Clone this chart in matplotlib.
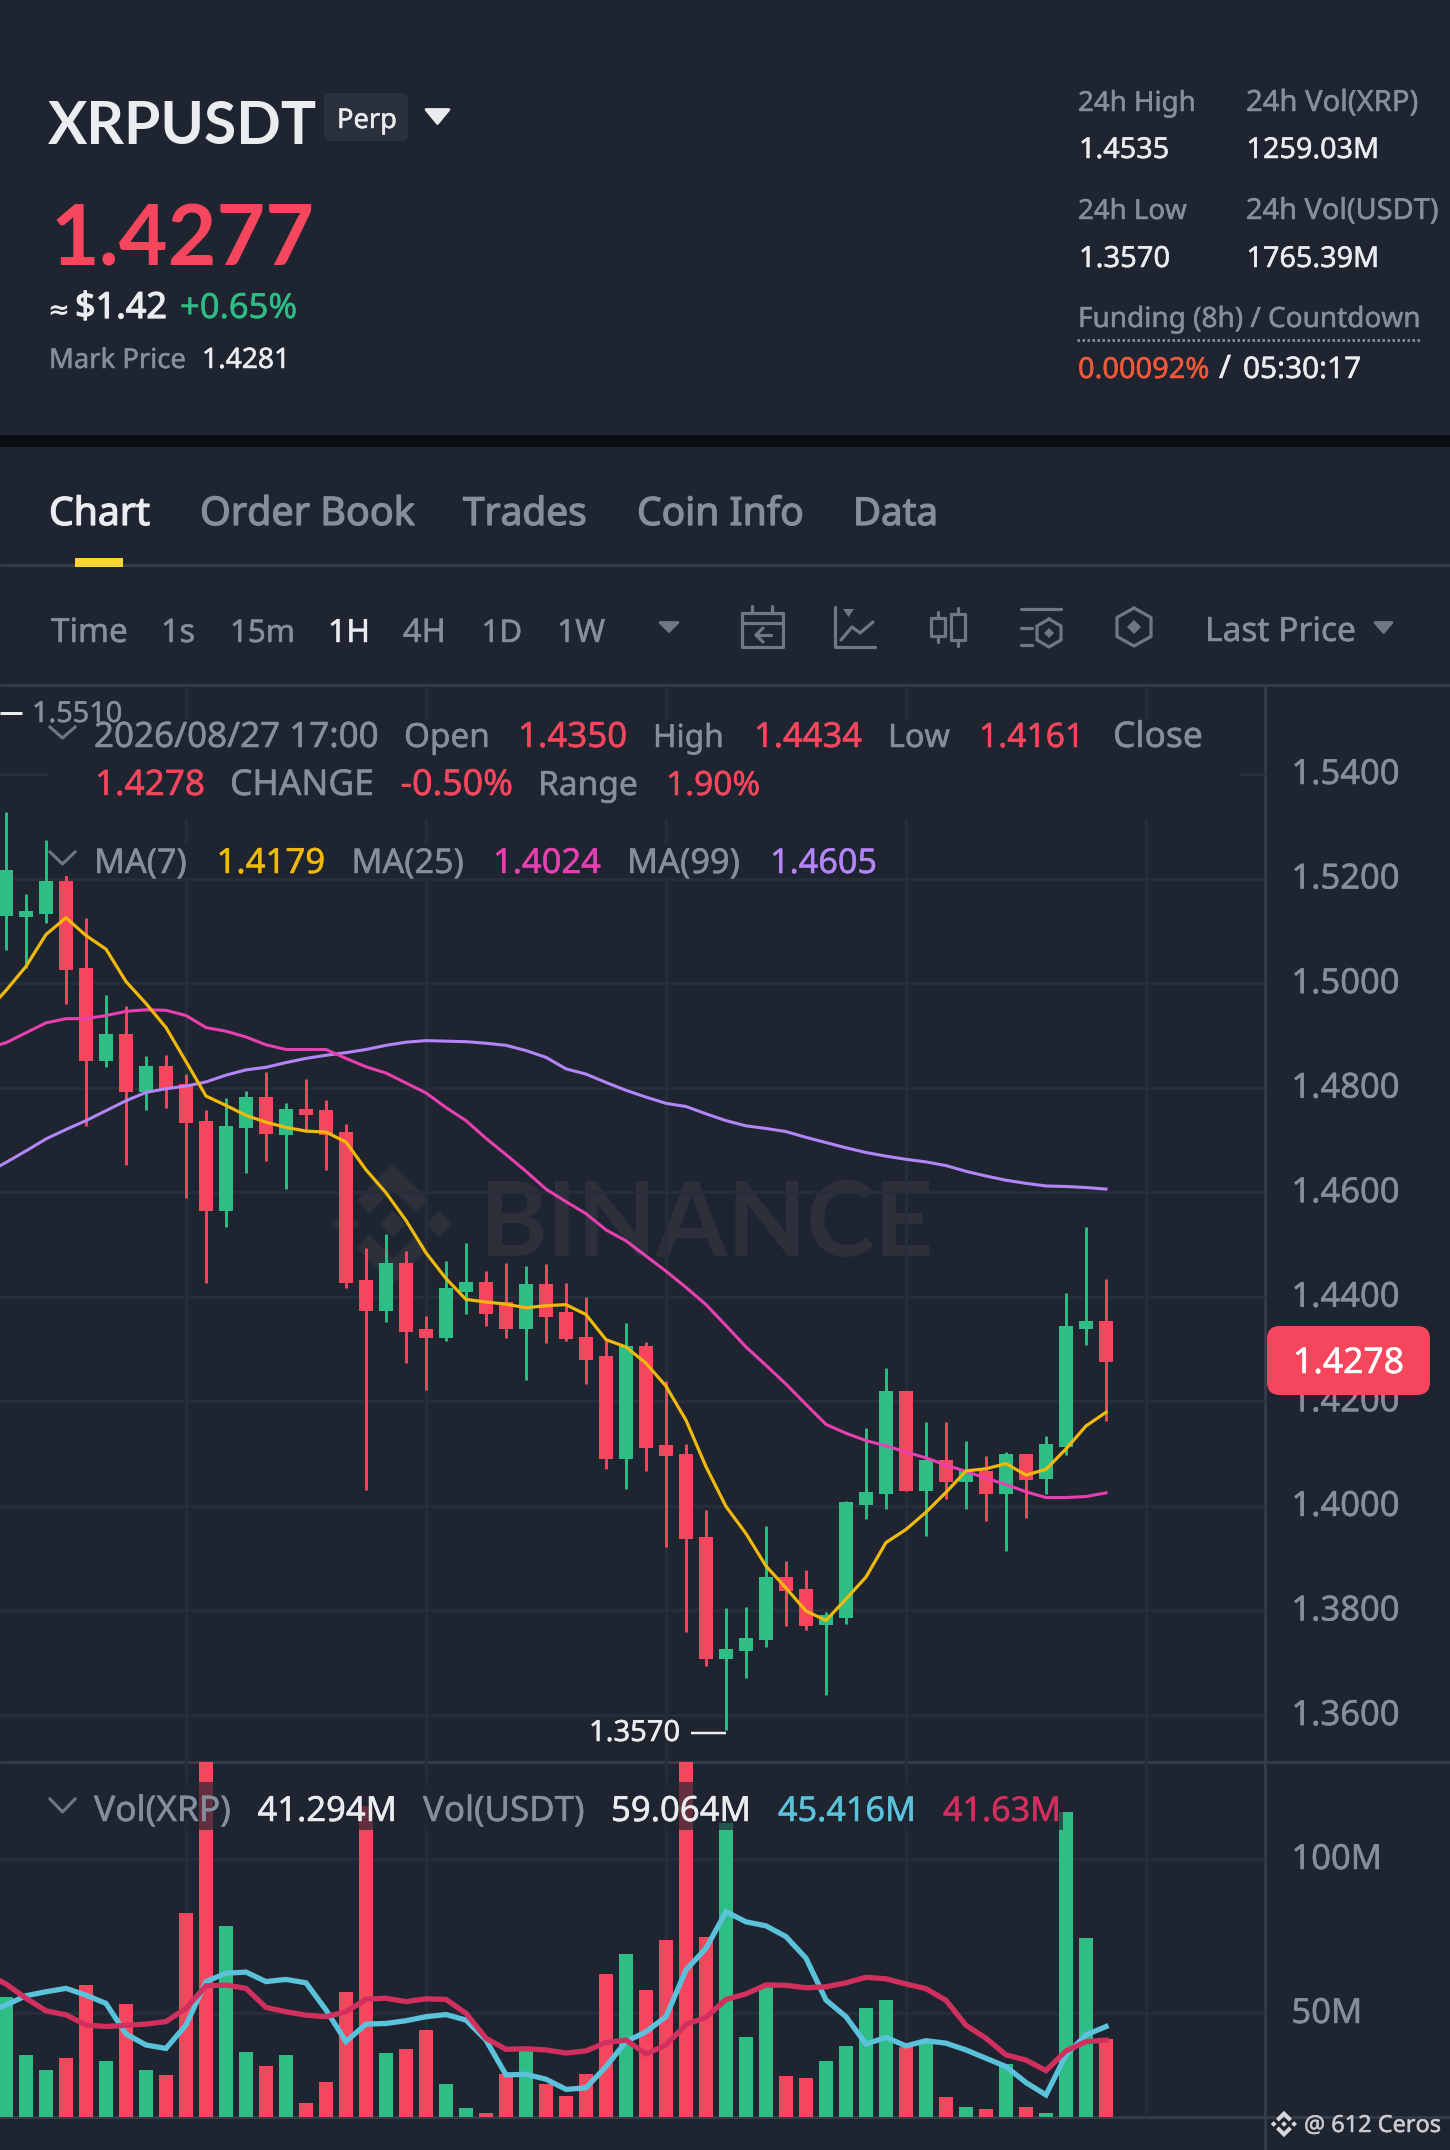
import matplotlib
matplotlib.use("Agg")
import matplotlib.pyplot as plt
from matplotlib.patches import Rectangle, Polygon, FancyBboxPatch
from matplotlib.transforms import ScaledTranslation
import matplotlib.patheffects as pe
import numpy as np

plt.rcParams['font.family'] = ['Noto Sans', 'DejaVu Sans']

W, H = 1450, 2150
BG = '#1e2530'; GRID = '#282e39'; SEP = '#343b47'
RED = '#f6465d'; GREEN = '#2ebd85'; GREY = '#848e9c'; WHITE = '#eaecef'; ICON = '#6f7785'
YELLOW = '#f0b90b'; PINK = '#e83fb1'; PURPLE = '#b385f8'; CYAN = '#5bc2db'; CRIMSON = '#d1305f'

open_ = [1.5129,1.5127,1.5133,1.5195,1.5029,1.4851,1.4903,1.4791,1.4841,1.4807,1.4737,1.4565,1.4723,1.4783,1.4710,1.4760,
         1.4757,1.4715,1.4432,1.4373,1.4465,1.4338,1.4322,1.4409,1.4429,1.4391,1.4339,1.4424,1.4370,1.4324,1.4287,1.4090,
         1.4306,1.4117,1.4100,1.3941,1.3708,1.3722,1.3743,1.3864,1.3842,1.3772,1.3786,1.4002,1.4022,1.4220,1.4028,1.4088,
         1.4045,1.4067,1.4022,1.4100,1.4051,1.4113,1.4339,1.4353]
close = [1.5217,1.5138,1.5195,1.5025,1.4851,1.4903,1.4791,1.4841,1.4798,1.4732,1.4565,1.4727,1.4783,1.4711,1.4760,1.4748,
         1.4709,1.4427,1.4373,1.4465,1.4332,1.4322,1.4416,1.4429,1.4367,1.4339,1.4424,1.4362,1.4319,1.4280,1.4090,1.4306,
         1.4111,1.4095,1.3937,1.3708,1.3727,1.3748,1.3864,1.3837,1.3771,1.3792,1.4007,1.4027,1.4220,1.4028,1.4088,1.4045,
         1.4067,1.4022,1.4100,1.4050,1.4119,1.4345,1.4353,1.4276]
high = [1.5328,1.5170,1.5274,1.5207,1.5125,1.4978,1.4956,1.4860,1.4862,1.4826,1.4758,1.4781,1.4794,1.4830,1.4771,1.4817,
        1.4777,1.4730,1.4493,1.4521,1.4488,1.4364,1.4468,1.4503,1.4450,1.4465,1.4458,1.4463,1.4427,1.4399,1.4316,1.4349,
        1.4314,1.4239,1.4119,1.3992,1.3804,1.3806,1.3962,1.3895,1.3877,1.3797,1.4009,1.4150,1.4264,1.4220,1.4161,1.4161,
        1.4124,1.4096,1.4103,1.4100,1.4134,1.4407,1.4534,1.4434]
low = [1.5063,1.5029,1.5115,1.4961,1.4726,1.4839,1.4653,1.4757,1.4762,1.4589,1.4427,1.4533,1.4636,1.4660,1.4606,1.4715,
       1.4643,1.4416,1.4031,1.4351,1.4273,1.4221,1.4315,1.4368,1.4344,1.4322,1.4241,1.4311,1.4316,1.4233,1.4071,1.4032,
       1.4067,1.3922,1.3758,1.3693,1.3571,1.3670,1.3731,1.3771,1.3763,1.3638,1.3774,1.3975,1.3995,1.4028,1.3943,1.4013,
       1.3995,1.3972,1.3914,1.3976,1.4022,1.4098,1.4308,1.4163]
# moving averages start one candle left of the visible range
ma7 = [1.4944,1.4986,1.5032,1.5093,1.5125,1.5091,1.5065,1.5003,1.4961,1.4915,1.4850,1.4784,1.4766,1.4747,1.4734,1.4724,1.4717,
       1.4715,1.4696,1.4643,1.4599,1.4546,1.4484,1.4435,1.4395,1.4390,1.4386,1.4379,1.4383,1.4385,1.4366,1.4318,1.4304,
       1.4273,1.4229,1.4164,1.4075,1.3999,1.3947,1.3885,1.3843,1.3799,1.3781,1.3822,1.3864,1.3930,1.3955,1.3988,1.4026,
       1.4067,1.4071,1.4081,1.4059,1.4070,1.4109,1.4153,1.4179]
ma25 = [1.4875,1.4886,1.4905,1.4924,1.4932,1.4932,1.4938,1.4946,1.4949,1.4948,1.4938,1.4915,1.4908,1.4897,1.4882,1.4873,1.4873,
        1.4873,1.4856,1.4840,1.4828,1.4809,1.4790,1.4762,1.4737,1.4703,1.4672,1.4640,1.4606,1.4582,1.4559,1.4528,1.4507,
        1.4478,1.4449,1.4418,1.4385,1.4345,1.4304,1.4269,1.4233,1.4194,1.4156,1.4139,1.4125,1.4115,1.4103,1.4092,1.4078,
        1.4066,1.4053,1.4041,1.4027,1.4016,1.4016,1.4018,1.4025]
ma99 = [1.4636,1.4657,1.4679,1.4702,1.4720,1.4737,1.4756,1.4775,1.4791,1.4798,1.4803,1.4811,1.4824,1.4834,1.4839,1.4848,1.4856,
        1.4862,1.4867,1.4873,1.4881,1.4887,1.4890,1.4889,1.4888,1.4885,1.4881,1.4871,1.4858,1.4836,1.4826,1.4810,1.4795,
        1.4782,1.4770,1.4764,1.4750,1.4737,1.4727,1.4722,1.4716,1.4705,1.4695,1.4685,1.4676,1.4669,1.4663,1.4658,1.4651,
        1.4640,1.4631,1.4623,1.4617,1.4612,1.4611,1.4609,1.4606]
volume = [55.1,36.4,31.5,35.3,59.0,34.4,52.8,31.4,30.0,82.5,135.0,78.2,37.2,32.8,36.4,20.9,27.7,56.8,117.2,37.0,38.3,44.4,
          26.8,19.2,17.4,30.1,39.1,26.9,23.2,30.1,62.6,69.2,57.4,73.6,135.0,74.6,111.8,42.3,58.5,29.5,28.9,34.3,39.3,51.5,
          54.2,39.1,40.7,22.6,19.5,18.8,33.4,19.4,17.4,115.4,74.5,41.5]
vol_ma_fast = [49.9,52.6,55.6,56.9,58.0,55.8,53.1,43.2,39.6,38.5,46.1,60.2,62.9,63.3,60.2,60.9,59.8,51.0,40.7,46.4,46.6,47.5,
               48.8,49.5,47.7,41.2,29.9,30.1,28.5,25.2,25.7,32.6,40.7,43.9,48.8,64.0,71.0,82.9,79.6,78.3,74.8,67.8,54.2,48.8,
               39.9,42.1,39.3,41.0,40.2,38.0,35.3,32.6,27.4,23.4,36.4,42.9,45.6]
vol_ma_slow = [62.9,59.4,54.8,50.7,49.4,46.1,45.6,46.0,46.4,47.2,51.5,58.8,59.1,58.0,51.8,50.4,49.3,48.8,50.4,54.5,54.8,53.7,
               54.6,54.4,49.9,41.8,38.2,38.4,38.0,37.0,37.7,40.4,41.2,36.7,39.6,46.3,48.6,54.4,56.2,59.1,59.0,58.2,58.5,59.8,
               61.6,61.1,59.4,57.9,54.1,46.0,41.8,36.4,34.7,31.3,37.7,40.7,41.2]
price_ticks = [1.36,1.38,1.40,1.42,1.44,1.46,1.48,1.50,1.52,1.54]
vol_ticks = [50,100]
vol_tick_labels = ['50M','100M']
time_ticks = [9,21,33,45,57]

fig = plt.figure(figsize=(W/100, H/100), dpi=100, facecolor=BG)
renderer = fig.canvas.get_renderer()

def px_axes(z):
    a = fig.add_axes([0,0,1,1], zorder=z, facecolor='none')
    a.set_xlim(0,W); a.set_ylim(H,0); a.axis('off')
    return a
bg = px_axes(0); ui = px_axes(5)

def T(ax, s, x0, x1, y, color, weight='normal', z=6, family=None, stroke=0.35):
    kw = {'family': family} if family else {}
    t = ax.text(x0, y, s, color=color, fontsize=24, ha='left', va='baseline', zorder=z,
                fontweight='bold' if family else 'normal', **kw)
    w = t.get_window_extent(renderer).width
    t.set_fontsize(24*(x1-x0)/w)
    if weight == 'medium':
        t.set_path_effects([pe.withStroke(linewidth=0.9, foreground=color)])
    elif stroke and not family:
        t.set_path_effects([pe.withStroke(linewidth=stroke, foreground=color)])
    return t

def hline(ax, x0, x1, y, c, lw, **k):
    ax.plot([x0,x1],[y,y],color=c,lw=lw*0.72,solid_capstyle='butt',**k)
def vline(ax, x, y0, y1, c, lw, **k):
    ax.plot([x,x],[y0,y1],color=c,lw=lw*0.72,solid_capstyle='butt',**k)

def logo(ax, cx, cy, s, color, z=1):
    def P(pts):
        ax.add_patch(Polygon([(cx+a*s, cy+b*s) for a,b in pts], closed=True, fc=color, ec='none', zorder=z))
    P([(0,-60),(36,-24),(23,-11),(0,-34),(-24,-11),(-36,-24)])
    P([(0,60),(36,24),(23,11),(0,34),(-24,11),(-36,24)])
    for dx in (-47,0,46):
        P([(dx-13,0),(dx,-13),(dx+13,0),(dx,13)])

def tri(ax, x0, x1, y0, y1, color):
    ax.add_patch(Polygon([(x0+2,y0+1.5),(x1-2,y0+1.5),((x0+x1)/2,y1-1.5)], closed=True, fc=color, ec=color, lw=2, joinstyle='round', zorder=6))

# ---- page structure
bg.add_patch(Rectangle((0,435),W,12,fc='#0a0e11',ec='none'))
hline(bg,0,W,565,SEP,3)
hline(bg,0,W,685,SEP,3)
hline(bg,0,W,1762,SEP,3)
hline(bg,0,W,2117,SEP,3)
vline(bg,1265,685,H,SEP,3)
bg.add_patch(Rectangle((75,558),48,9,fc='#fcd535',ec='none',zorder=3))

# ---- watermark
logo(bg,393,1224,1.0,'#2b303b')
T(bg,'BINANCE',480,934,1256,'#2b303b',z=1,family='Lato')

# ---- price panel
x_left = -0.3; x_right = 62.95
pa = fig.add_axes([0,(H-1762)/H,1265/W,(1762-686)/H], zorder=2, facecolor='none')
pa.set_xlim(x_left,x_right); pa.set_ylim(1.35102,1.55683)
idx = np.arange(len(open_))
o,c,h,l = map(np.array,(open_,close,high,low))
colors = [GREEN if c[i]>=o[i] else RED for i in idx]
pa.set_axisbelow(True)
pa.vlines(idx,l,h,colors=colors,lw=2.1,zorder=2)
pa.bar(idx,np.abs(c-o),bottom=np.minimum(o,c),width=0.7,color=colors,zorder=3)
ma_x = np.arange(-1,len(open_))
pa.plot(ma_x,ma99,color=PURPLE,lw=2.2,zorder=4)
pa.plot(ma_x,ma25,color=PINK,lw=2.2,zorder=4)
pa.plot(ma_x,ma7,color=YELLOW,lw=2.3,zorder=5)
pa.set_yticks(price_ticks); pa.set_yticklabels([f'{v:.4f}' for v in price_ticks])
pa.set_xticks(time_ticks); pa.set_xticklabels([])
pa.grid(True,color=GRID,lw=2.0)
pa.yaxis.tick_right()
pa.tick_params(axis='both',length=0)
pa.tick_params(axis='y',labelsize=24.9,labelcolor=GREY,pad=19)
for s in pa.spines.values(): s.set_visible(False)

# ---- volume panel
va = fig.add_axes([0,(H-2117)/H,1265/W,(2117-1762)/H], zorder=2, facecolor='none')
va.set_xlim(x_left,x_right); va.set_ylim(16.23,131.5)
va.set_axisbelow(True)
va.bar(idx,volume,width=0.7,color=colors,zorder=3)
va.plot(ma_x,vol_ma_fast,color=CYAN,lw=3.8,zorder=4,solid_joinstyle='miter')
va.plot(ma_x,vol_ma_slow,color=CRIMSON,lw=3.8,zorder=5,solid_joinstyle='miter')
va.set_yticks(vol_ticks); va.set_yticklabels(vol_tick_labels)
va.set_xticks(time_ticks); va.set_xticklabels([])
va.grid(True,color=GRID,lw=2.0)
va.yaxis.tick_right()
va.tick_params(axis='both',length=0)
va.tick_params(axis='y',labelsize=24.9,labelcolor=GREY,pad=19)
for s in va.spines.values(): s.set_visible(False)

# tick labels sit a little above their grid lines
for a in (pa, va):
    for lab in a.get_yticklabels():
        lab.set_transform(lab.get_transform() + ScaledTranslation(0, 3/100, fig.dpi_scale_trans))
        lab.set_path_effects([pe.withStroke(linewidth=0.35, foreground=GREY)])

# ---- header
T(ui,'XRPUSDT',48,317,144,WHITE,family='Lato')
ui.add_patch(FancyBboxPatch((328,97),76,40,boxstyle='round,pad=4,rounding_size=7',fc='#2a303c',ec='none',zorder=5))
T(ui,'Perp',337,397,128,WHITE)
tri(ui,424,451,108,125,WHITE)
T(ui,'1.4277',51,314,266,RED,family='Lato')
T(ui,'≈',47,69,318,WHITE,family='DejaVu Sans')
T(ui,'$1.42',75,167,318,WHITE,'medium')
T(ui,'+0.65%',180,297,318,GREEN)
T(ui,'Mark Price',49,186,368,GREY)
T(ui,'1.4281',202,290,368,WHITE)
T(ui,'24h High',1078,1196,111,GREY)
T(ui,'24h Vol(XRP)',1246,1418.5,111,GREY)
T(ui,'1.4535',1079,1169,158,WHITE)
T(ui,'1259.03M',1246.5,1379,158,WHITE)
T(ui,'24h Low',1078,1187,219,GREY)
T(ui,'24h Vol(USDT)',1246,1439,219,GREY)
T(ui,'1.3570',1079,1170,267,WHITE)
T(ui,'1765.39M',1246.5,1379,267,WHITE)
T(ui,'Funding (8h) / Countdown',1078,1421,327,GREY)
ui.plot([1077,1422],[340,340],color=GREY,lw=2.0,ls=(0,(0.9,0.9)))
T(ui,'0.00092%',1078,1209.5,378,'#f0583a')
T(ui,'/',1219,1231,378,WHITE)
T(ui,'05:30:17',1243,1361,378,WHITE)

# ---- tabs
T(ui,'Chart',49,150,525,WHITE,'medium')
for s,a,b in [('Order Book',200,415),('Trades',463,587),('Coin Info',637,804),('Data',853,938)]:
    T(ui,s,a,b,525,GREY,'medium')
for s,a,b,col in [('Time',51,128,GREY),('1s',161,195,GREY),('15m',230,295,GREY),('1H',328,370,WHITE),
                  ('4H',403,446,GREY),('1D',481.5,522,GREY),('1W',557,605,GREY)]:
    T(ui,s,a,b,642,col)
tri(ui,658,680,621,633,ICON)
T(ui,'Last Price',1205,1356,641,GREY)
tri(ui,1373,1394,621,634,ICON)

# ---- toolbar icons
def L(pts,lw=3.2):
    xs,ys = zip(*pts)
    ui.plot(xs,ys,color=ICON,lw=lw*0.72,solid_capstyle='round',solid_joinstyle='round',zorder=6)
L([(742,613),(783,613),(783,647),(742,647),(742,613)])
L([(742,623),(783,623)]); L([(752,606),(752,613)]); L([(772,606),(772,613)])
L([(771,635),(756,635)]); L([(763,628),(756,635),(763,642)])
L([(835,607),(835,647),(875,647)]); L([(841,640),(852,627),(860,633),(873,622)])
ui.add_patch(Polygon([(843,609),(854,609),(848.5,617)],fc=ICON,ec='none',zorder=6))
L([(931,618),(945,618),(945,636),(931,636),(931,618)]); L([(938,612),(938,618)]); L([(938,636),(938,642)])
L([(951,614),(965,614),(965,640),(951,640),(951,614)]); L([(958,608),(958,614)]); L([(958,640),(958,646)])
L([(1021,609),(1061,609)]); L([(1021,628),(1032,628)]); L([(1021,645),(1032,645)])
def hexa(cx,cy,hw,hh,dw):
    L([(cx,cy-hh),(cx+hw,cy-hh*0.5),(cx+hw,cy+hh*0.5),(cx,cy+hh),(cx-hw,cy+hh*0.5),(cx-hw,cy-hh*0.5),(cx,cy-hh)])
    ui.add_patch(Polygon([(cx-dw,cy),(cx,cy-dw),(cx+dw,cy),(cx,cy+dw)],fc=ICON,ec='none',zorder=6))
hexa(1049,633,12,14,5); hexa(1134,627,17,19,7)

# ---- legend rows over the chart
ui.add_patch(Rectangle((48,720),1192,100,fc=BG,ec='none',zorder=4))
ui.add_patch(Rectangle((48,843),832,33,fc=BG,ec='none',zorder=4))
ui.add_patch(Rectangle((48,1782),1015,48,fc=BG,ec='none',alpha=0.68,zorder=4))
def chev(y0,y1):
    ui.plot([50,62.5,75],[y0,y1,y0],color=ICON,lw=2.2,zorder=6)
chev(727,738); chev(852,864); chev(1799,1812)
for s,a,b,col in [('2026/08/27 17:00',94,379,GREY),('Open',404,490,GREY),('1.4350',518,627,RED),('High',653,724,GREY),
                  ('1.4434',754,862,RED),('Low',888,950,GREY),('1.4161',979,1084,RED),('Close',1113,1203,GREY)]:
    T(ui,s,a,b,747,col)
for s,a,b,col in [('1.4278',95,205,RED),('CHANGE',230,374,GREY),('-0.50%',400.5,513,RED),('Range',538,638,GREY),('1.90%',666,760,RED)]:
    T(ui,s,a,b,795,col)
for s,a,b,col in [('MA(7)',94,187,GREY),('1.4179',216.5,325,YELLOW),('MA(25)',351.5,464,GREY),('1.4024',493,601,PINK),
                  ('MA(99)',627,740,GREY),('1.4605',770,877,PURPLE)]:
    T(ui,s,a,b,873,col)
for s,a,b,col in [('Vol(XRP)',94,231,GREY),('41.294M',257.5,397,WHITE),('Vol(USDT)',423,585,GREY),('59.064M',611,751,WHITE),
                  ('45.416M',778,916,CYAN),('41.63M',943,1061,CRIMSON)]:
    T(ui,s,a,b,1821,col)

# ---- extremes
hline(ui,0,22,713,WHITE,3,zorder=6)
T(ui,'1.5510',32,122,722,GREY)
T(ui,'1.3570',589,680,1741,WHITE)
hline(ui,691,726,1733,WHITE,2.5,zorder=6)

# ---- last price tag
ui.add_patch(FancyBboxPatch((1279,1338),139,45,boxstyle='round,pad=12,rounding_size=13',fc=RED,ec='none',zorder=5))
T(ui,'1.4278',1293,1404,1373,'#ffffff')

# ---- footer
logo(ui,1284,2124,0.22,'#d5d8dc',z=6)
T(ui,'@ 612 Ceros',1304,1441,2132,'#c8ccd2')

fig.savefig('out.png',dpi=100,facecolor=BG)
